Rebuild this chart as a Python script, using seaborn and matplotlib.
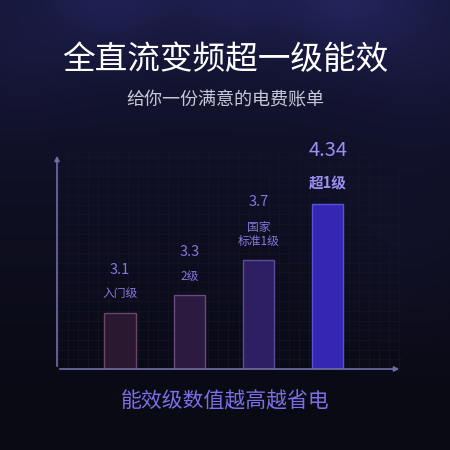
import numpy as np
import pandas as pd
import seaborn as sns
import matplotlib.pyplot as plt

# chart data
levels = ['入门级', '2级', '国家\n标准1级', '超1级']
ratings = [3.1, 3.3, 3.7, 4.34]
fill_colors = ['#2a1830', '#2c1a40', '#2e1f62', '#3327b4']
edge_colors = ['#6a4566', '#6b4a7e', '#5a4c9e', '#5b52d6']
title = '全直流变频超一级能效'
subtitle = '给你一份满意的电费账单'
footer = '能效级数值越高越省电'

sns.set_theme(style='dark')
plt.rcParams['font.family'] = ['Noto Sans CJK SC', 'DejaVu Sans']

fig = plt.figure(figsize=(4.5, 4.5), dpi=100)

# background: dark navy gradient with soft glows at the top
bg = fig.add_axes([0, 0, 1, 1])
yy, xx = np.mgrid[0:450, 0:450]
t = yy / 449.0
top = np.array([22, 23, 58]) / 255.0
bottom = np.array([10, 10, 20]) / 255.0
w = (1 - t[..., None]) ** 1.6
img = top[None, None, :] * w + bottom[None, None, :] * (1 - w)
for cx, cy, r, amp in [(110, -10, 45, 0.10), (230, 0, 40, 0.07), (340, -10, 45, 0.12),
                       (420, 40, 50, 0.05), (20, 60, 40, 0.03), (410, 250, 60, 0.03)]:
    g = np.exp(-((xx - cx) ** 2 + (yy - cy) ** 2) / (2 * r ** 2)) * amp
    img = img + g[..., None] * np.array([0.4, 0.4, 1.0])[None, None, :]
bg.imshow(np.clip(img, 0, 1), extent=[0, 450, 450, 0], aspect='auto')
bg.set_axis_off()

# main chart
ax = fig.add_axes([57 / 450, 81 / 450, 345 / 450, 216 / 450])
ax.patch.set_alpha(0)
df = pd.DataFrame({'level': levels, 'rating': ratings})
sns.barplot(data=df, x='level', y='rating', hue='level', palette=fill_colors,
            saturation=1, width=0.45, legend=False, ax=ax, zorder=3)
for bar, ec in zip(ax.patches, edge_colors):
    bar.set_edgecolor(ec)
    bar.set_linewidth(1.0)

ax.set_ylim(2.46, 4.92)
ax.set_xlim(-0.91, 4.07)
ax.set_xticks([])
ax.set_yticks([])
ax.set_xlabel('')
ax.set_ylabel('')
for s in ax.spines.values():
    s.set_visible(False)

# faint grid in the plot area
for gx in np.arange(-0.9, 4.1, 0.145):
    ax.axvline(gx, color='#16162e', lw=0.4, zorder=0)
for gy in np.arange(2.46, 4.95, 0.11):
    ax.axhline(gy, color='#16162e', lw=0.4, zorder=0)

axis_col = '#6e6ea8'
ax.annotate('', xy=(0, 1.0), xytext=(0, 0), xycoords='axes fraction',
            arrowprops=dict(arrowstyle='-|>', color=axis_col, lw=1.2, mutation_scale=7))
ax.annotate('', xy=(1.0, 0), xytext=(0, 0), xycoords='axes fraction',
            arrowprops=dict(arrowstyle='-|>', color=axis_col, lw=1.2, mutation_scale=7))

# value and level labels above each bar
for i, (lvl, val) in enumerate(zip(levels, ratings)):
    last = i == len(levels) - 1
    col = '#9a90f2' if last else '#8478dc'
    nlines = lvl.count('\n') + 1
    ax.annotate(lvl, (i, val), xytext=(0, 9), textcoords='offset points',
                ha='center', va='bottom', fontsize=10.5 if last else 8.5,
                fontweight='bold' if last else 'normal', color=col, linespacing=1.1)
    ax.annotate(f'{val:g}', (i, val), xytext=(0, 26 + 11 * (nlines - 1) + (5 if last else 0)),
                textcoords='offset points', ha='center', va='bottom',
                fontsize=14.5 if last else 10.5, color=col)

# titles
fig.text(0.5, 1 - 60 / 450, title, ha='center', va='center', fontsize=23.5, color='white')
fig.text(0.5, 1 - 100 / 450, subtitle, ha='center', va='center', fontsize=13, color='#c8c8d8')
fig.text(0.5, 1 - 402 / 450, footer, ha='center', va='center', fontsize=15, color='#7b6ee6')

fig.savefig('out.png', dpi=100)
